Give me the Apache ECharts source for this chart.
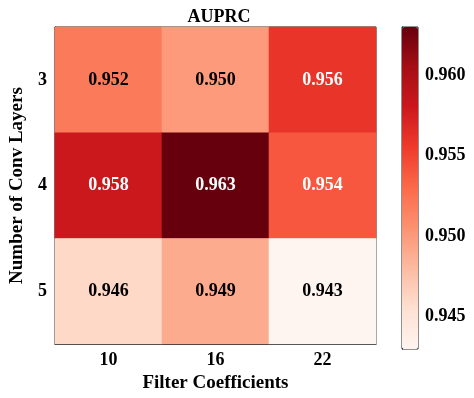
<!DOCTYPE html>
<html><head><meta charset="utf-8">
<script src="https://cdn.jsdelivr.net/npm/echarts@6/dist/echarts.min.js"></script>
<style>html,body{margin:0;padding:0;background:#fff}#c{width:474px;height:398px}</style>
</head><body><div id="c"></div>
<script>
const xCategories = ['10', '16', '22'];
const yCategories = ['3', '4', '5'];
const row3 = [0.952, 0.950, 0.956];
const row4 = [0.958, 0.963, 0.954];
const row5 = [0.946, 0.949, 0.943];
const colorbarTicks = [0.945, 0.950, 0.955, 0.960];
const vMin = 0.943, vMax = 0.963;
const titleText = 'AUPRC';
const xName = 'Filter Coefficients';
const yName = 'Number of Conv Layers';

const rows = [row3, row4, row5];
const FONT = 'Liberation Serif';
const data = [];
rows.forEach((r, yi) => r.forEach((v, xi) => {
  const frac = (v - vMin) / (vMax - vMin);
  data.push({value: [xi, yi, v], label: {color: frac > 0.5 ? '#fff' : '#000'}});
}));
const reds = ['#fff5f0','#fee0d2','#fcbba1','#fc9272','#fb6a4a','#ef3b2c','#cb181d','#a50f15','#67000d'];
const chart = echarts.init(document.getElementById('c'));
chart.setOption({
  animation: false,
  title: {text: titleText, left: 214, top: 3, textAlign: 'center',
    textStyle: {fontFamily: FONT, fontWeight: 'bold', fontSize: 18, color: '#000'}},
  grid: [
    {left: 52, top: 27, width: 324, height: 323, show: true, borderColor: '#222', borderWidth: 1, backgroundColor: 'transparent'},
    {left: 402, top: 27, width: 16, height: 322, show: true, borderColor: '#222', borderWidth: 1, backgroundColor: 'transparent'}
  ],
  xAxis: [
    {type: 'category', data: xCategories, gridIndex: 0,
      name: xName, nameLocation: 'middle', nameGap: 29,
      nameTextStyle: {fontFamily: FONT, fontWeight: 'bold', fontSize: 19, color: '#000'},
      axisLine: {lineStyle: {color: '#222'}},
      axisTick: {alignWithLabel: true, length: 4, lineStyle: {color: '#222'}},
      axisLabel: {fontFamily: FONT, fontWeight: 'bold', fontSize: 18, color: '#000', margin: 7},
      splitArea: {show: false}},
    {type: 'value', gridIndex: 1, show: false, min: 0, max: 1}
  ],
  yAxis: [
    {type: 'category', data: yCategories, gridIndex: 0, inverse: true,
      name: yName, nameLocation: 'middle', nameGap: 27, nameRotate: 90,
      nameTextStyle: {fontFamily: FONT, fontWeight: 'bold', fontSize: 19, color: '#000'},
      axisLine: {lineStyle: {color: '#222'}},
      axisTick: {alignWithLabel: true, length: 4, lineStyle: {color: '#222'}},
      axisLabel: {fontFamily: FONT, fontWeight: 'bold', fontSize: 18, color: '#000', margin: 8}},
    {type: 'value', gridIndex: 1, position: 'right', min: vMin, max: vMax,
      axisLine: {show: true, lineStyle: {color: '#222'}},
      axisTick: {show: true, length: 4, customValues: colorbarTicks, lineStyle: {color: '#222'}},
      axisLabel: {show: true, customValues: colorbarTicks, margin: 7,
        formatter: v => v.toFixed(3),
        fontFamily: FONT, fontWeight: 'bold', fontSize: 18, color: '#000'},
      splitLine: {show: false}}
  ],
  visualMap: {
    type: 'continuous', min: vMin, max: vMax, calculable: false, seriesIndex: 0,
    orient: 'vertical', left: 402, top: 27, itemWidth: 16, itemHeight: 322, padding: 0,
    text: ['', ''], textGap: 0, showLabel: false,
    textStyle: {color: 'rgba(0,0,0,0)'},
    inRange: {color: reds}
  },
  series: [{
    type: 'heatmap', xAxisIndex: 0, yAxisIndex: 0, data: data,
    label: {show: true, formatter: p => p.value[2].toFixed(3),
      fontFamily: FONT, fontWeight: 'bold', fontSize: 18},
    itemStyle: {borderWidth: 0}
  }]
});
</script></body></html>
